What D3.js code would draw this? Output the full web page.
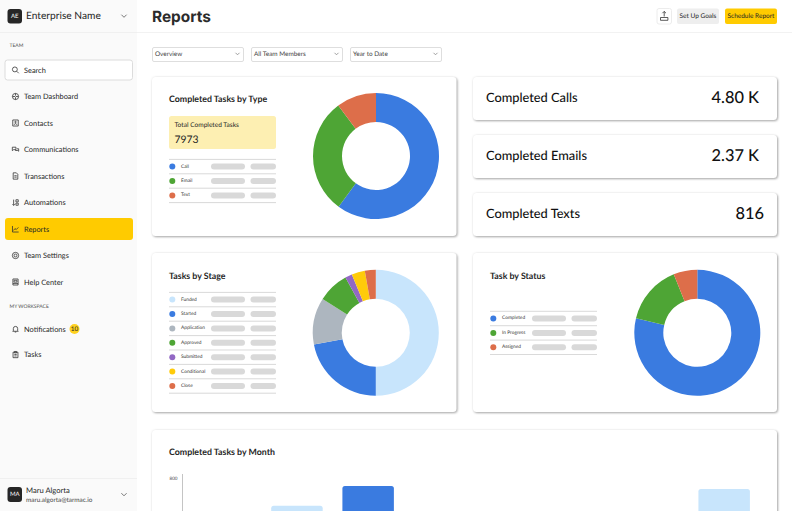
<!DOCTYPE html>
<html>
<head>
<meta charset="utf-8">
<script src="https://cdn.jsdelivr.net/npm/d3@7"></script>
<style>
  html, body { margin: 0; background: #fff; overflow: hidden; }
  svg { display: block; font-family: Lato, sans-serif; text-rendering: geometricPrecision; }
  .card { fill: #fff; filter: drop-shadow(1px 1.5px 1px rgba(0,0,0,.32)) drop-shadow(0 0 1px rgba(0,0,0,.08)); }
</style>
</head>
<body>
<svg id="page" width="800" height="511"></svg>
<script>
// dados
const typeLabels = ['Call', 'Email', 'Text'];
const typeValues = [4800, 2370, 816];
const stageLabels = ['Funded', 'Started', 'Application', 'Approved', 'Submitted', 'Conditional', 'Close'];
const stageValues = [50, 22, 12, 8, 1.8, 3.4, 2.8];
const statusLabels = ['Completed', 'In Progress', 'Assigned'];
const statusValues = [78.7, 15.2, 6.1];
const months = ['Jan', 'Feb', 'Mar', 'Apr', 'May', 'Jun', 'Jul', 'Aug'];
const visibleMonths = ['Feb', 'Mar', 'Aug'];
const visibleMonthValues = [700, 771, 760];
const statNames = ['Completed Calls', 'Completed Emails', 'Completed Texts'];
const statValues = ['4.80 K', '2.37 K', '816'];
const teamNav = ['Team Dashboard', 'Contacts', 'Communications', 'Transactions', 'Automations', 'Reports', 'Team Settings', 'Help Center'];
const workspaceNav = ['Notifications', 'Tasks'];
const filters = ['Overview', 'All Team Members', 'Year to Date'];

const BLUE = '#3a7be0', GREEN = '#4ea535', ORANGE = '#dd6e4a', LIGHT = '#c8e5fc';
const GREY = '#adb6bf', PURPLE = '#9268c4', YELLOW = '#ffcb0a', TEXT = '#262626';
const typeColors = [BLUE, GREEN, ORANGE];
const stageColors = [LIGHT, BLUE, GREY, GREEN, PURPLE, YELLOW, ORANGE];
const statusColors = [BLUE, GREEN, ORANGE];

const svg = d3.select('#page');

function label(parent, x, y, str, size, opts = {}) {
    return parent.append('text')
        .attr('x', x).attr('y', y)
        .attr('dominant-baseline', 'central')
        .attr('text-anchor', opts.anchor || 'start')
        .attr('font-size', size)
        .attr('font-weight', opts.weight || 400)
        .attr('font-family', opts.family || null)
        .attr('fill', opts.fill || TEXT)
        .text(str);
}

function chevron(parent, x, y, w, color) {
    parent.append('path')
        .attr('d', `M${x - w},${y - w / 2}L${x},${y + w / 2}L${x + w},${y - w / 2}`)
        .attr('fill', 'none').attr('stroke', color).attr('stroke-width', 0.8);
}

// icones simples do menu, caixa de 10x10
const icons = {
    'Search': 'M6.8 6.8L9.5 9.5M7.5 4.2a3.4 3.4 0 1 1-6.8 0a3.4 3.4 0 1 1 6.8 0',
    'Team Dashboard': 'M9.3 5a4.3 4.3 0 1 1-8.6 0a4.3 4.3 0 1 1 8.6 0M1 5h3.5M5.5 5h3.5M5 .8v3M5 6v3.2',
    'Contacts': 'M1.2 .8h7.6v8.4H1.2zM3.2 7.4c.3-2 3.3-2 3.6 0M6 3.6a1 1 0 1 1-2 0a1 1 0 1 1 2 0',
    'Communications': 'M.6 1.8h5v3.4H2.4L.6 6.6zM6.8 4h2.6v3.4l-1.2-1H5V5.4',
    'Transactions': 'M1.8 .6h4.4l2 2v6.8H1.8zM3.4 4.6h3.2M3.4 6.6h3.2',
    'Automations': 'M2.4 1v8M.8 7.4L2.4 9L4 7.4M5.6 1.2h3.2v3H5.6zM5.6 5.8h3.2v3H5.6z',
    'Reports': 'M.8 .8v8.4h8.6M2.2 7l2-2.6l1.8 1.4l3-3',
    'Team Settings': 'M7 5a2 2 0 1 1-4 0a2 2 0 1 1 4 0M9.4 5a4.4 4.4 0 1 1-8.8 0a4.4 4.4 0 1 1 8.8 0',
    'Help Center': 'M1.4 .8h7.2v8.4H1.4zM3 2.6h4v2.6H3zM1.4 7.2h7.2',
    'Notifications': 'M2 7.4V4.4a3 3 0 0 1 6 0v3l.8.8H1.2zM4 9.2h2',
    'Tasks': 'M1.6 1.8h6.8v7.6H1.6zM3.4 .8h3.2v2H3.4zM3.4 5h3.2M3.4 7h3.2'
};

function navIcon(name, x, y) {
    svg.append('path')
        .attr('transform', `translate(${x - 3.6},${y - 3.6}) scale(0.72)`)
        .attr('d', icons[name])
        .attr('fill', 'none').attr('stroke', '#333').attr('stroke-width', 1.1);
}

function drawSidebar() {
    svg.append('rect').attr('width', 137).attr('height', 511).attr('fill', '#fafafa');
    svg.append('line').attr('x1', 0).attr('x2', 137).attr('y1', 32.5).attr('y2', 32.5).attr('stroke', '#f0f0f0');
    svg.append('line').attr('x1', 0).attr('x2', 137).attr('y1', 478.5).attr('y2', 478.5).attr('stroke', '#f0f0f0');

    svg.append('rect').attr('x', 7.5).attr('y', 9).attr('width', 14.5).attr('height', 14.5).attr('rx', 3).attr('fill', '#262626');
    label(svg, 14.8, 16.4, 'AE', 6, { anchor: 'middle', fill: '#fff' });
    label(svg, 26, 16.2, 'Enterprise Name', 10.2);
    chevron(svg, 124, 16, 2.6, '#555');

    label(svg, 9.5, 46, 'TEAM', 5, { fill: '#555' });
    svg.append('rect').attr('x', 5).attr('y', 60).attr('width', 127.5).attr('height', 20).attr('rx', 2.5)
        .attr('fill', '#fff').attr('stroke', '#dcdcdc');
    navIcon('Search', 15.5, 70);
    label(svg, 24, 70, 'Search', 7.4);

    svg.append('rect').attr('x', 5).attr('y', 218).attr('width', 128).attr('height', 22).attr('rx', 3).attr('fill', '#ffcb00');

    const navY = d3.scalePoint().domain(teamNav).range([96.5, 282]);
    teamNav.forEach(name => {
        navIcon(name, 15.5, navY(name));
        label(svg, 24, navY(name), name, 7.4);
    });

    label(svg, 9.5, 306.5, 'MY WORKSPACE', 5, { fill: '#555' });
    const workY = d3.scalePoint().domain(workspaceNav).range([329, 354.5]);
    workspaceNav.forEach(name => {
        navIcon(name, 15.5, workY(name));
        label(svg, 24, workY(name), name, 7.4);
    });
    svg.append('circle').attr('cx', 74.5).attr('cy', 329).attr('r', 5).attr('fill', '#ffd21f');
    label(svg, 74.5, 329.2, '10', 6.4, { anchor: 'middle' });

    svg.append('rect').attr('x', 7.5).attr('y', 487).attr('width', 14.5).attr('height', 15).attr('rx', 3).attr('fill', '#262626');
    label(svg, 14.8, 494.8, 'MA', 6, { anchor: 'middle', fill: '#fff' });
    label(svg, 26, 490, 'Maru Algorta', 7.6);
    label(svg, 26, 500.5, 'maru.algorta@tarmac.io', 6.4, { fill: '#444' });
    chevron(svg, 124, 494.5, 2.6, '#555');
}

function drawHeader() {
    svg.append('line').attr('x1', 137).attr('x2', 792).attr('y1', 32.5).attr('y2', 32.5).attr('stroke', '#f2f2f2');
    label(svg, 152, 16, 'Reports', 15.4, { weight: 700, family: 'Inter, sans-serif', fill: '#2b2b2b' });

    svg.append('rect').attr('x', 657).attr('y', 8.5).attr('width', 14.5).attr('height', 15.5).attr('rx', 2)
        .attr('fill', '#fff').attr('stroke', '#ececec');
    svg.append('path').attr('d', 'M664.2 11.5v5M662.4 13.2l1.8-1.8l1.8 1.8M660.5 17.5h7.4v2.8h-7.4z')
        .attr('fill', 'none').attr('stroke', '#333').attr('stroke-width', 0.8);

    svg.append('rect').attr('x', 677).attr('y', 8.5).attr('width', 42).attr('height', 15.5).attr('rx', 2).attr('fill', '#eeeeee');
    label(svg, 698, 16.4, 'Set Up Goals', 6.5, { anchor: 'middle' });
    svg.append('rect').attr('x', 725).attr('y', 8.5).attr('width', 52).attr('height', 15.5).attr('rx', 2).attr('fill', '#ffcb00');
    label(svg, 751, 16.4, 'Schedule Report', 6.5, { anchor: 'middle' });

    const filterX = d3.scalePoint().domain(filters).range([152.5, 350.5]);
    filters.forEach(name => {
        svg.append('rect').attr('x', filterX(name)).attr('y', 47.5).attr('width', 91).attr('height', 14).attr('rx', 1.5)
            .attr('fill', '#fff').attr('stroke', '#dedede');
        label(svg, filterX(name) + 2.5, 54.8, name, 6.4, { fill: '#444' });
        chevron(svg, filterX(name) + 85, 53.8, 2, '#888');
    });
}

function card(x, y, w, h) {
    svg.append('rect').attr('class', 'card').attr('x', x).attr('y', y).attr('width', w).attr('height', h).attr('rx', 3.5);
}

function donut(cx, cy, values, colors) {
    const pie = d3.pie().sort(null)(values);
    const arc = d3.arc().innerRadius(34).outerRadius(63);
    svg.append('g').attr('transform', `translate(${cx},${cy})`)
        .selectAll('path').data(pie).join('path')
        .attr('d', arc)
        .attr('fill', (d, i) => colors[i]);
}

function legend(x, topY, labels, colors) {
    const step = 14.4;
    const g = svg.append('g').attr('transform', `translate(${x},${topY})`);
    d3.range(labels.length + 1).forEach(i => {
        g.append('line').attr('x1', 0).attr('x2', 107).attr('y1', i * step).attr('y2', i * step).attr('stroke', '#c9c9c9').attr('stroke-width', 0.7);
    });
    labels.forEach((name, i) => {
        const y = i * step + step / 2;
        g.append('circle').attr('cx', 3.3).attr('cy', y).attr('r', 3).attr('fill', colors[i]);
        label(g, 12, y, name, 4.8, { fill: '#333' });
        g.append('rect').attr('x', 42).attr('y', y - 3).attr('width', 34).attr('height', 6).attr('rx', 3).attr('fill', '#d9d9d9');
        g.append('rect').attr('x', 81.5).attr('y', y - 3).attr('width', 25.5).attr('height', 6).attr('rx', 3).attr('fill', '#d9d9d9');
    });
}

function drawTypeCard() {
    card(152, 77, 304.5, 159);
    label(svg, 169, 98.6, 'Completed Tasks by Type', 8.8, { weight: 700 });
    svg.append('rect').attr('x', 169).attr('y', 116).attr('width', 107).attr('height', 33).attr('rx', 2.5).attr('fill', '#fdefb2');
    label(svg, 174.5, 125.3, 'Total Completed Tasks', 6.6);
    label(svg, 174.5, 139.5, '7973', 10.4);
    legend(169, 159.4, typeLabels, typeColors);
    donut(376, 156, typeValues, typeColors);
}

function drawStats() {
    statNames.forEach((name, i) => {
        const y = 77 + i * 58;
        card(473, y, 304, 43);
        label(svg, 486, y + 19.6, name, 12.8, { weight: 500, fill: '#111' });
        // no original o "816" fica mais a direita que os outros dois
        label(svg, i === 2 ? 764 : 759, y + 20, statValues[i], 16.4, { anchor: 'end', weight: 500, fill: '#111' });
    });
}

function drawStageCard() {
    card(152, 253, 304.5, 159);
    label(svg, 169, 275.3, 'Tasks by Stage', 8.8, { weight: 700 });
    legend(169, 292.4, stageLabels, stageColors);
    donut(375.8, 332.8, stageValues, stageColors);
}

function drawStatusCard() {
    card(473, 253, 304, 159);
    label(svg, 490, 275.3, 'Task by Status', 8.8, { weight: 700 });
    legend(490, 311.3, statusLabels, statusColors);
    donut(697.3, 332.8, statusValues, statusColors);
}

function drawMonthCard() {
    card(152, 430, 625, 140);
    label(svg, 169, 451.8, 'Completed Tasks by Month', 8.8, { weight: 700 });

    // o grafico continua abaixo da dobra, so o topo aparece
    const x = d3.scaleBand().domain(months).range([182.2, 767.7]).paddingInner(0.277).paddingOuter(0.25);
    const y = d3.scaleLinear().domain([0, 800]).range([700, 478]);

    const axis = svg.append('g').attr('transform', 'translate(182.5,0)')
        .call(d3.axisLeft(y).tickValues([800]).tickSize(0).tickPadding(5).tickSizeOuter(0));
    axis.select('.domain').attr('stroke', '#c4c4c4').attr('d', 'M0,474V700');
    axis.selectAll('text').attr('font-size', 4.6).attr('font-family', 'Lato, sans-serif').attr('fill', '#444');

    svg.append('g').selectAll('rect').data(visibleMonths).join('rect')
        .attr('x', d => x(d))
        .attr('y', (d, i) => y(visibleMonthValues[i]))
        .attr('width', x.bandwidth())
        .attr('height', (d, i) => y(0) - y(visibleMonthValues[i]))
        .attr('rx', 2.5)
        .attr('fill', d => d === 'Mar' ? BLUE : LIGHT);
}

drawSidebar();
drawHeader();
drawTypeCard();
drawStats();
drawStageCard();
drawStatusCard();
drawMonthCard();
</script>
</body>
</html>
